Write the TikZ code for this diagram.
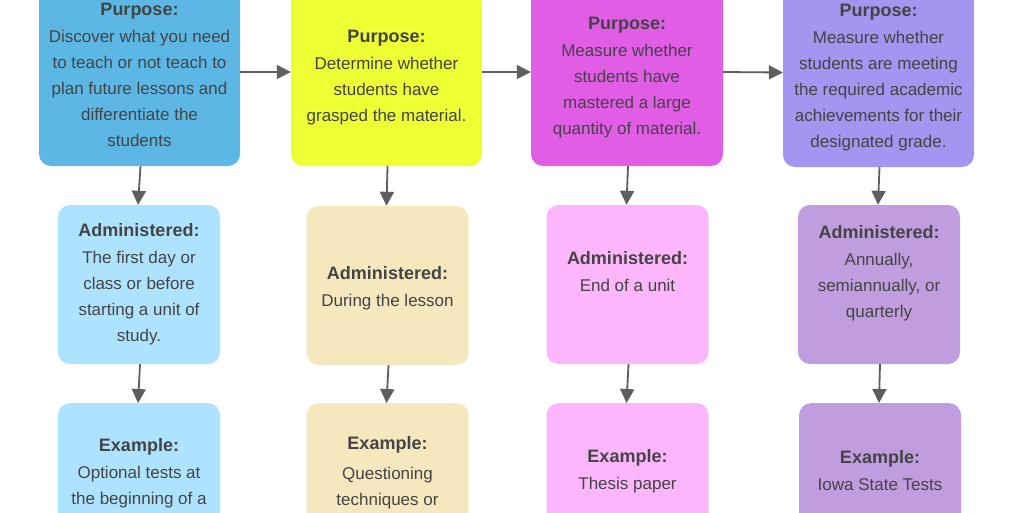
\documentclass[tikz,border=0pt]{standalone}
\usepackage{fontspec}
\setmainfont{Liberation Sans}
\usetikzlibrary{arrows.meta,calc}
\definecolor{txt}{HTML}{444444}
\definecolor{arr}{HTML}{5E5E5E}
\definecolor{pA}{HTML}{5DB7E5}
\definecolor{pB}{HTML}{EEFF33}
\definecolor{pC}{HTML}{E15DE6}
\definecolor{pD}{HTML}{A395F0}
\definecolor{mA}{HTML}{AEE3FF}
\definecolor{mB}{HTML}{F6E8BE}
\definecolor{mC}{HTML}{FDB6FB}
\definecolor{mD}{HTML}{C09DDF}
\newcommand{\hd}[1]{{\fontsize{18}{26}\selectfont\bfseries #1}}
\begin{document}
\begin{tikzpicture}[x=1pt,y=-1pt,
 card/.style={rectangle, rounded corners=12pt, inner sep=0pt, align=center, text=txt, font=\fontsize{17}{26}\selectfont},
 topcard/.style={card},
 midcard/.style={card, minimum width=162pt, minimum height=159pt},
 botcard/.style={card, minimum width=162pt, minimum height=160pt, anchor=north},
 body/.style={align=center, text=txt, font=\fontsize{17}{26}\selectfont, inner sep=0pt},
 link/.style={draw=arr, line width=1.8pt, -{Triangle[length=14pt,width=14pt]}}]
\useasboundingbox (0,0) rectangle (1024,512);
\clip (0,0) rectangle (1024,512);
\fill[white] (0,0) rectangle (1024,512);
% top row
\node[topcard, fill=pA, minimum width=201pt, minimum height=183pt] (p1) at (139.5,74.5)
 {\hd{Purpose:}\\[1pt]Discover what you need\\to teach or not teach to\\plan future lessons and\\differentiate the\\students};
\node[topcard, fill=pB, minimum width=191pt, minimum height=177pt] (p2) at (386.5,77.5)
 {\hd{Purpose:}\\[1pt]Determine whether\\students have\\grasped the material.};
\node[topcard, fill=pC, minimum width=192pt, minimum height=177pt] (p3) at (627,77.5)
 {\hd{Purpose:}\\[1pt]Measure whether\\students have\\mastered a large\\quantity of material.};
\node[topcard, fill=pD, minimum width=191pt, minimum height=178pt] (p4) at (878.5,78)
 {\hd{Purpose:}\\[1pt]Measure whether\\students are meeting\\the required academic\\achievements for their\\designated grade.};
% middle row
\node[midcard, fill=mA] (a1) at (139,284.5)
 {\hd{Administered:}\\[1pt]The first day or\\class or before\\starting a unit of\\study.};
\node[midcard, fill=mB] (a2) at (387.5,285.5)
 {\mbox{}\\[-7pt]\hd{Administered:}\\[1pt]During the lesson};
\node[midcard, fill=mC] (a3) at (627.5,284.5)
 {\hd{Administered:}\\[1pt]End of a unit\\[0pt]\mbox{}};
\node[midcard, fill=mD] (a4) at (879,284.5)
 {\hd{Administered:}\\[1pt]Annually,\\semiannually, or\\quarterly\\[0pt]\mbox{}};
% bottom row
\node[botcard, fill=mA] (e1) at (139,403) {};
\node[botcard, fill=mB] (e2) at (387.5,403) {};
\node[botcard, fill=mC] (e3) at (627.5,403) {};
\node[botcard, fill=mD] (e4) at (880,403) {};
\node[body] (x1) at ($(e1.north)+(0,70)$) {\hd{Example:}\\[1pt]Optional tests at\\the beginning of a};
\node[body] (x2) at ($(e2.north)+(0,70)$) {\hd{Example:}\\[4pt]Questioning\\techniques or};
\node[body] (x3) at ($(e3.north)+(0,68)$) {\hd{Example:}\\[1pt]Thesis paper};
\node[body] (x4) at ($(e4.north)+(0,68)$) {\hd{Example:}\\[1pt]Iowa State Tests};
% connectors
\draw[link] ([yshift=2.5pt]p1.east) -- ([yshift=5.5pt]p2.west);
\draw[link] ([yshift=5.5pt]p2.east) -- ([yshift=5.5pt]p3.west);
\draw[link] ([yshift=5.5pt]p3.east) -- ([yshift=5.5pt]p4.west);
\foreach \i in {1,2,3,4}{
 \draw[link] ([xshift=1pt]p\i.south) -- ([xshift=-1pt]a\i.north);
 \draw[link] ([xshift=1pt]a\i.south) -- ([xshift=-1pt]e\i.north);
}
\end{tikzpicture}
\end{document}
